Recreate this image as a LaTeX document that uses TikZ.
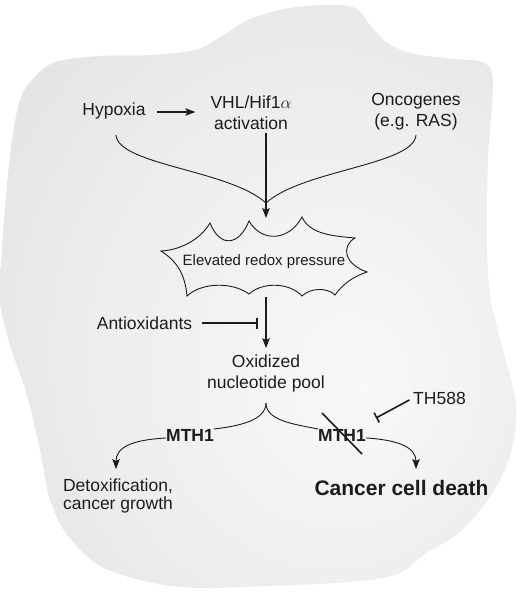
\documentclass[tikz,border=0pt]{standalone}
\usepackage{fontspec}
\setmainfont{Liberation Sans}
\usetikzlibrary{arrows.meta,calc}
\definecolor{ink}{HTML}{1C1C1C}
\pgfdeclareradialshading{blobshade}{\pgfpoint{10bp}{-8bp}}{rgb(0bp)=(0.975,0.975,0.975); rgb(22bp)=(0.93,0.93,0.93); rgb(50bp)=(0.855,0.855,0.855); rgb(60bp)=(0.84,0.84,0.84)}
\tikzset{
  txt/.style={font=\fontsize{17.5}{21}\selectfont, inner sep=0pt, text=ink},
  bigtxt/.style={font=\fontsize{21}{25}\selectfont\bfseries, inner sep=0pt, text=ink},
  smalltxt/.style={font=\fontsize{15}{18}\selectfont, inner sep=0pt, text=ink},
  arr/.style={draw=ink, line width=1.1pt, -{Stealth[length=10pt,width=7.5pt,inset=2pt]}},
  thinarr/.style={draw=ink, line width=0.9pt, -{Stealth[length=10pt,width=7.5pt,inset=2pt]}},
  curve/.style={draw=ink, line width=0.9pt},
  inhib/.style={draw=ink, line width=1.6pt, -{Bar[width=11pt,line width=1.6pt]}},
  starline/.style={draw=ink, line width=0.9pt, line join=miter},
}
\begin{document}
\begin{tikzpicture}[x=1pt,y=-1pt]
\useasboundingbox (0,0) rectangle (520,601);
% cell blob
\shade[shading=blobshade] plot[smooth cycle, tension=0.55] coordinates {
 (32,80) (55,62) (100,56) (150,55) (195,50) (222,36) (250,19) (290,8) (335,5) (357,9)
 (370,25) (386,42) (410,53) (445,58) (482,62) (492,74) (492,105) (488,160) (487,250)
 (491,300) (503,350) (516,405) (511,452) (492,494) (460,532) (425,554) (398,574)
 (360,581) (300,585) (240,587) (195,588) (148,582) (100,566) (68,536) (50,500)
 (40,450) (26,392) (9,342) (0,300) (2,250) (6,195) (12,140) (20,100)};

% nodes
\node[txt, anchor=base] (hyp) at (114,115.5) {Hypoxia};
\node[txt, align=center] (vhl) at (251,113) {VHL/Hif1$\alpha$\\activation};
\node[txt, align=center] (onc) at (416,112) {Oncogenes\\(e.g. RAS)};
\node[smalltxt, anchor=base] (redox) at (264,265.7) {Elevated redox pressure};
\node[txt, anchor=base] (anti) at (144.5,329.5) {Antioxidants};
\node[txt, align=center] (pool) at (266,373) {Oxidized\\nucleotide pool};
\node[txt, anchor=base] (th) at (439.5,404) {TH588};
\node[txt, anchor=base, font=\fontsize{17.5}{21}\selectfont\bfseries] (mthl) at (190,441) {MTH1};
\node[txt, anchor=base, font=\fontsize{17.5}{21}\selectfont\bfseries] (mthr) at (342,441) {MTH1};
\node[txt, align=center, font=\fontsize{17.5}{18}\selectfont] (detox) at (118,496.3) {Detoxification,\\cancer growth};
\node[bigtxt, anchor=base] (death) at (401.5,495) {Cancer cell death};

% coordinates
\coordinate (hypb) at (116,135);
\coordinate (oncb) at (416,135);
\coordinate (m) at (266,203);
\coordinate (startop) at (266,218);
\coordinate (starbot) at (266,297);
\coordinate (poolb) at (266,403);
\coordinate (thend) at (376,418);
\coordinate (xa) at (322,413);
\coordinate (xb) at (362,454);

% redox star
\draw[starline] (210,223) .. controls (220,248) and (239,246) .. (249,221)
  .. controls (262,243) and (289,241) .. (302,217)
  .. controls (310,235) and (335,236) .. (355,238)
  .. controls (341,246) and (344,264) .. (367,272)
  .. controls (352,277) and (342,285) .. (335,295)
  .. controls (327,287) and (310,288) .. (302,296)
  .. controls (289,282) and (262,282) .. (249,294)
  .. controls (233,282) and (202,282) .. (187,296)
  .. controls (185,275) and (178,262) .. (161,251)
  .. controls (180,250) and (200,240) .. (210,223) -- cycle;

% top connectors
\draw[arr, shorten <=11pt, shorten >=15pt] (hyp.east |- 0,112) -- (vhl.west |- 0,112);
\draw[curve] (hypb) .. controls (118,165) and (230,170) .. (m);
\draw[curve] (oncb) .. controls (414,165) and (302,170) .. (m);
\draw[arr, shorten <=3pt] (vhl.south -| m) -- (startop);

% middle
\draw[arr, shorten >=6pt] (starbot) -- (pool.north -| starbot);
\draw[inhib, shorten <=10pt, shorten >=8pt] (anti.east |- 0,323) -- (m |- 0,323);

% brace
\draw[curve] (poolb) .. controls (266,420) and (240,426) .. ([yshift=6pt]mthl.east);
\draw[curve] (poolb) .. controls (266,420) and (292,424) .. ([yshift=6pt]mthr.west);

% MTH1 branches
\draw[thinarr] ([yshift=-3pt]mthl.west) .. controls (130,440) and (116,448) .. (116,469);
\draw[thinarr] ([yshift=-3pt]mthr.east) .. controls (400,440) and (416,448) .. (416,469);

% TH588 inhibition and cross
\draw[inhib, shorten <=4pt] (th.west |- 0,398) -- (thend);
\draw[draw=ink, line width=1.6pt] (xa) -- (xb);
\end{tikzpicture}
\end{document}
